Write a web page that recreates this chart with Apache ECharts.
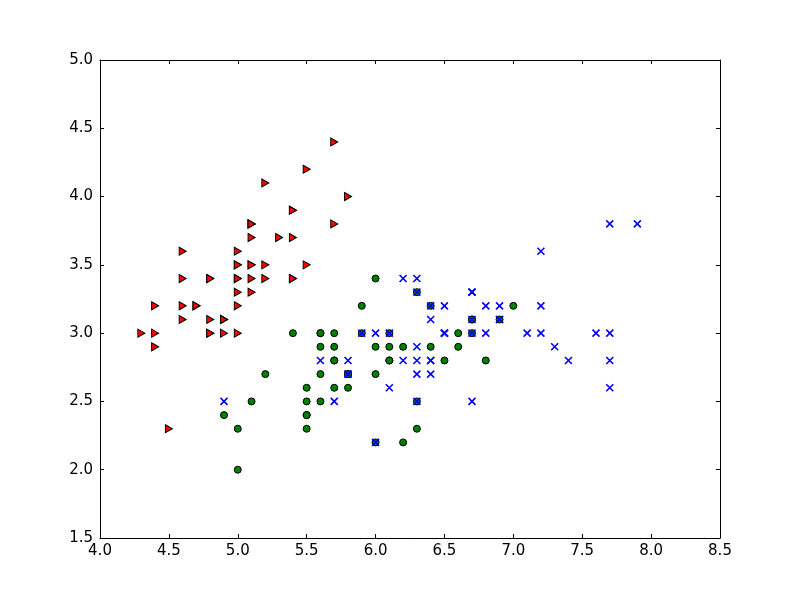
<!DOCTYPE html>
<html><head><meta charset="utf-8">
<script src="https://cdn.jsdelivr.net/npm/echarts@6/dist/echarts.min.js"></script>
<style>html,body{margin:0;padding:0;background:#fff}#c{width:800px;height:598px}</style>
</head><body><div id="c"></div>
<script>
// Sepal length (x) vs sepal width (y)
var setosaX = [5.1,4.9,4.7,4.6,5.0,5.4,4.6,5.0,4.4,4.9,5.4,4.8,4.8,4.3,5.8,5.7,5.4,5.1,5.7,5.1,5.4,5.1,4.6,5.1,4.8,5.0,5.0,5.2,5.2,4.7,4.8,5.4,5.2,5.5,4.9,5.0,5.5,4.9,4.4,5.1,5.0,4.5,4.4,5.0,5.1,4.8,5.1,4.6,5.3,5.0];
var setosaY = [3.5,3.0,3.2,3.1,3.6,3.9,3.4,3.4,2.9,3.1,3.7,3.4,3.0,3.0,4.0,4.4,3.9,3.5,3.8,3.8,3.4,3.7,3.6,3.3,3.4,3.0,3.4,3.5,3.4,3.2,3.1,3.4,4.1,4.2,3.1,3.2,3.5,3.1,3.0,3.4,3.5,2.3,3.2,3.5,3.8,3.0,3.8,3.2,3.7,3.3];
var versicolorX = [7.0,6.4,6.9,5.5,6.5,5.7,6.3,4.9,6.6,5.2,5.0,5.9,6.0,6.1,5.6,6.7,5.6,5.8,6.2,5.6,5.9,6.1,6.3,6.1,6.4,6.6,6.8,6.7,6.0,5.7,5.5,5.5,5.8,6.0,5.4,6.0,6.7,6.3,5.6,5.5,5.5,6.1,5.8,5.0,5.6,5.7,5.7,6.2,5.1,5.7];
var versicolorY = [3.2,3.2,3.1,2.3,2.8,2.8,3.3,2.4,2.9,2.7,2.0,3.0,2.2,2.9,2.9,3.1,3.0,2.7,2.2,2.5,3.2,2.8,2.5,2.8,2.9,3.0,2.8,3.0,2.9,2.6,2.4,2.4,2.7,2.7,3.0,3.4,3.1,2.3,3.0,2.5,2.6,3.0,2.6,2.3,2.7,3.0,2.9,2.9,2.5,2.8];
var virginicaX = [6.3,5.8,7.1,6.3,6.5,7.6,4.9,7.3,6.7,7.2,6.5,6.4,6.8,5.7,5.8,6.4,6.5,7.7,7.7,6.0,6.9,5.6,7.7,6.3,6.7,7.2,6.2,6.1,6.4,7.2,7.4,7.9,6.4,6.3,6.1,7.7,6.3,6.4,6.0,6.9,6.7,6.9,5.8,6.8,6.7,6.7,6.3,6.5,6.2,5.9];
var virginicaY = [3.3,2.7,3.0,2.9,3.0,3.0,2.5,2.9,2.5,3.6,3.2,2.7,3.0,2.5,2.8,3.2,3.0,3.8,2.6,2.2,3.2,2.8,2.8,2.7,3.3,3.2,2.8,3.0,2.8,3.0,2.8,3.8,2.8,2.8,2.6,3.0,3.4,3.1,3.0,3.1,3.1,3.1,2.7,3.2,3.3,3.0,2.5,3.0,3.4,3.0];
var xTicks = [4.0,4.5,5.0,5.5,6.0,6.5,7.0,7.5,8.0,8.5];
var yTicks = [1.5,2.0,2.5,3.0,3.5,4.0,4.5,5.0];

function pairs(xs, ys){ return xs.map(function(v,i){ return [v, ys[i]]; }); }

var chart = echarts.init(document.getElementById('c'), null, {renderer:'canvas'});
var font = {color:'#000', fontSize:15, fontFamily:'DejaVu Sans'};
function axisBase(show, margin){
  return {
    axisLine:{show:true, onZero:false, lineStyle:{color:'#000', width:1}},
    axisTick:{show:true, inside:true, length:4, lineStyle:{color:'#000'}},
    splitLine:{show:false},
    axisLabel: show ? Object.assign({margin:margin, formatter:function(v){return v.toFixed(1);}}, font) : {show:false}
  };
}
var xMin = xTicks[0], xMax = xTicks[xTicks.length-1];
var yMin = yTicks[0], yMax = yTicks[yTicks.length-1];
chart.setOption({
  animation:false,
  backgroundColor:'#fff',
  grid:{left:100, right:80, top:60, bottom:60},
  xAxis:[
    Object.assign({type:'value', min:xMin, max:xMax, interval:0.5, position:'bottom'}, axisBase(true, 6)),
    Object.assign({type:'value', min:xMin, max:xMax, interval:0.5, position:'top'}, axisBase(false))
  ],
  yAxis:[
    Object.assign({type:'value', min:yMin, max:yMax, interval:0.5, position:'left'}, axisBase(true, 7)),
    Object.assign({type:'value', min:yMin, max:yMax, interval:0.5, position:'right'}, axisBase(false))
  ],
  series:[
    {type:'scatter', name:'setosa', data:pairs(setosaX,setosaY),
     symbol:'path://M0,0 L10,5 L0,10 Z', symbolSize:[7,8],
     itemStyle:{color:'#ff0000', borderColor:'#000', borderWidth:1, opacity:1}},
    {type:'scatter', name:'versicolor', data:pairs(versicolorX,versicolorY),
     symbol:'circle', symbolSize:7,
     itemStyle:{color:'#008000', borderColor:'#000', borderWidth:1, opacity:1}},
    {type:'scatter', name:'virginica', data:pairs(virginicaX,virginicaY),
     symbol:'path://M0,0 L10,10 M10,0 L0,10', symbolSize:7,
     itemStyle:{color:'rgba(0,0,0,0)', borderColor:'#0000ff', borderWidth:1.6, opacity:1}}
  ]
});
</script>
</body></html>
